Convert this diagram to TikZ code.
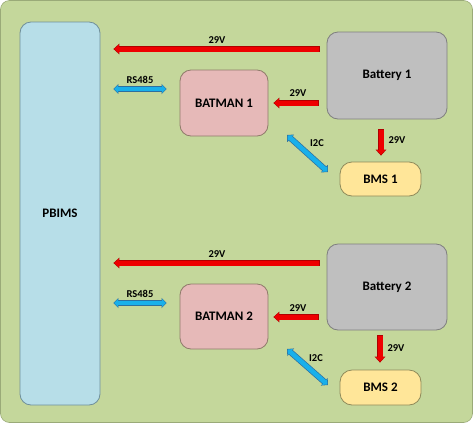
\documentclass[tikz,border=0pt]{standalone}
\usepackage{fontspec}
\setmainfont{Carlito}
\usetikzlibrary{arrows.meta,calc}
\definecolor{bggreen}{HTML}{C4D79B}
\definecolor{bgedge}{HTML}{9AAA78}
\definecolor{pbfill}{HTML}{B7DEE8}
\definecolor{pbedge}{HTML}{6F8F9A}
\definecolor{bmfill}{HTML}{E6B9B8}
\definecolor{bmedge}{HTML}{8F7A6A}
\definecolor{btfill}{HTML}{BFBFBF}
\definecolor{btedge}{HTML}{7F7F7F}
\definecolor{bsfill}{HTML}{FFE699}
\definecolor{bsedge}{HTML}{8F8A5A}
\definecolor{arred}{HTML}{EE0000}
\definecolor{arredge}{HTML}{B00000}
\definecolor{arblue}{HTML}{19B0EA}
\definecolor{arblueedge}{HTML}{2E6F9E}
\tikzset{
  box/.style={draw, line width=0.8pt, rounded corners=11pt, inner sep=0pt,
    font=\fontsize{13}{15}\selectfont\bfseries, text=black},
  lbl/.style={font=\fontsize{10.5}{12}\selectfont\bfseries, text=black, inner sep=0pt},
  redarr/.style={line width=6.4pt, arredge, -{Triangle[width=10.5pt,length=6pt]},
    postaction={draw=arred, line width=5pt, -{Triangle[width=8pt,length=4.6pt]}, shorten >=0.8pt, shorten <=0.7pt}},
  bluearr/.style={line width=6pt, arblueedge, {Triangle[width=10pt,length=5pt]}-{Triangle[width=10pt,length=5pt]},
    postaction={draw=arblue, line width=4.6pt, {Triangle[width=7.6pt,length=3.8pt]}-{Triangle[width=7.6pt,length=3.8pt]}, shorten >=0.8pt, shorten <=0.8pt}},
}
\begin{document}
\begin{tikzpicture}[x=1pt,y=-1pt]
\useasboundingbox (0,0) rectangle (474,424);
\fill[white] (0,0) rectangle (474,424);
\draw[fill=bggreen, draw=bgedge, line width=0.6pt, rounded corners=9pt] (0.5,0.5) rectangle (472.5,422.5);

\node[box, fill=pbfill, draw=pbedge, minimum width=80pt, minimum height=383pt] (pbims) at (60,213.5) {PBIMS};

\node[box, fill=bmfill, draw=bmedge, minimum width=88pt, minimum height=66pt] (batman1) at (224,103) {BATMAN 1};
\node[box, fill=btfill, draw=btedge, minimum width=120pt, minimum height=87pt] (bat1) at (387,75.5) {Battery 1};
\node[box, fill=bsfill, draw=bsedge, minimum width=81pt, minimum height=34pt, rounded corners=12pt] (bms1) at (380.5,179) {BMS 1};

\node[box, fill=bmfill, draw=bmedge, minimum width=88pt, minimum height=65pt] (batman2) at (224,316.5) {BATMAN 2};
\node[box, fill=btfill, draw=btedge, minimum width=120pt, minimum height=86pt] (bat2) at (387,287) {Battery 2};
\node[box, fill=bsfill, draw=bsedge, minimum width=81pt, minimum height=35pt, rounded corners=12pt] (bms2) at (380.5,387.5) {BMS 2};

% coordinates for arrow rows
\coordinate (r1) at (0,49);
\coordinate (s1) at (0,89);
\coordinate (r2) at (0,263);
\coordinate (s2) at (0,303);
\coordinate (q1) at (0,103);
\coordinate (q2) at (0,317);

% top unit
\draw[redarr] ([xshift=-7pt]bat1.west |- r1) -- ([xshift=13pt]pbims.east |- r1);
\node[lbl] (v1a) at (217,40) {29V};
\draw[bluearr] ([xshift=13pt]pbims.east |- s1) -- ([xshift=-13pt]batman1.west |- s1);
\node[lbl] (rs1) at (140,80) {RS485};
\draw[redarr] ([xshift=-8pt]bat1.west |- q1) -- ([xshift=5pt]batman1.east |- q1);
\node[lbl] (v1b) at (298,93) {29V};
\draw[redarr] ([yshift=-10pt]bat1.south -| 381,0) -- ([yshift=6pt]bms1.north -| 381,0);
\node[lbl] (v1c) at (397,140) {29V};
\coordinate (i1a) at (287,135);
\coordinate (i1b) at (328,172);
\draw[bluearr] (i1a) -- (i1b);
\node[lbl] (i2c1) at (317,143) {I2C};

% bottom unit
\draw[redarr] ([xshift=-7pt]bat2.west |- r2) -- ([xshift=13pt]pbims.east |- r2);
\node[lbl] (v2a) at (217,254) {29V};
\draw[bluearr] ([xshift=13pt]pbims.east |- s2) -- ([xshift=-13pt]batman2.west |- s2);
\node[lbl] (rs2) at (140,294) {RS485};
\draw[redarr] ([xshift=-8pt]bat2.west |- q2) -- ([xshift=5pt]batman2.east |- q2);
\node[lbl] (v2b) at (298,308) {29V};
\draw[redarr] ([yshift=-5pt]bat2.south -| 380,0) -- ([yshift=7pt]bms2.north -| 380,0);
\node[lbl] (v2c) at (396,348) {29V};
\coordinate (i2a) at (287,349);
\coordinate (i2b) at (328,385);
\draw[bluearr] (i2a) -- (i2b);
\node[lbl] (i2c2) at (316,358) {I2C};
\end{tikzpicture}
\end{document}
